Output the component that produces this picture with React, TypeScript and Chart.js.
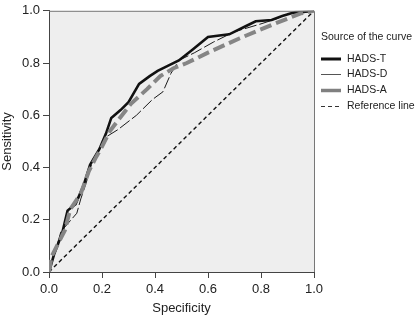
import React, { useEffect, useRef } from "react";
import { Chart, registerables } from "chart.js";

Chart.register(...registerables);

const seriesNames = ["HADS-T", "HADS-D", "HADS-A", "Reference line"];
const legendTitle = "Source of the curve";
const xAxisTitle = "Specificity";
const yAxisTitle = "Sensitivity";
const tickValues = [0, 0.2, 0.4, 0.6, 0.8, 1.0];

const hadsTX = [0, 0.02, 0.05, 0.07, 0.1, 0.13, 0.155, 0.19, 0.215, 0.235, 0.27, 0.3, 0.34, 0.38, 0.41, 0.45, 0.49, 0.54, 0.6, 0.68, 0.74, 0.78, 0.84, 0.88, 0.93, 1];
const hadsTY = [0, 0.07, 0.15, 0.235, 0.26, 0.33, 0.41, 0.47, 0.53, 0.59, 0.62, 0.65, 0.72, 0.75, 0.77, 0.79, 0.81, 0.85, 0.9, 0.91, 0.94, 0.96, 0.965, 0.98, 0.995, 1];

const hadsDX = [0, 0.03, 0.045, 0.105, 0.12, 0.14, 0.16, 0.19, 0.22, 0.26, 0.33, 0.39, 0.43, 0.46, 0.49, 0.55, 0.62, 0.7, 0.8, 0.86, 0.9, 0.95, 1];
const hadsDY = [0, 0.1, 0.155, 0.225, 0.28, 0.34, 0.41, 0.47, 0.52, 0.545, 0.6, 0.66, 0.69, 0.76, 0.81, 0.84, 0.88, 0.92, 0.95, 0.97, 0.99, 0.99, 1];

const hadsAX = [0, 0.01, 0.06, 0.08, 0.12, 0.15, 0.175, 0.2, 0.23, 0.26, 0.31, 0.37, 0.42, 0.47, 0.52, 0.6, 0.72, 0.85, 0.95, 1];
const hadsAY = [0, 0.06, 0.16, 0.24, 0.3, 0.385, 0.435, 0.48, 0.54, 0.58, 0.645, 0.7, 0.75, 0.78, 0.8, 0.84, 0.895, 0.95, 0.99, 1];

const refX = [0, 1];
const refY = [0, 1];

const FONT = "'Liberation Sans', Arial, Helvetica, sans-serif";
const TEXT = "#222222";
const AXIS = "#444444";

const toPoints = (xs: number[], ys: number[]) => xs.map((x, i) => ({ x, y: ys[i] }));

const backgroundPlugin = {
  id: "plotBackground",
  beforeDraw(chart: any) {
    const { ctx, chartArea: a } = chart;
    ctx.save();
    ctx.fillStyle = "#eeeeee";
    ctx.fillRect(a.left, a.top, a.right - a.left, a.bottom - a.top);
    ctx.restore();
  },
  afterDraw(chart: any) {
    const { ctx, chartArea: a } = chart;
    ctx.save();
    ctx.strokeStyle = "#777777";
    ctx.lineWidth = 1;
    ctx.beginPath();
    ctx.moveTo(a.left, a.top + 0.5);
    ctx.lineTo(a.right + 0.5, a.top + 0.5);
    ctx.lineTo(a.right + 0.5, a.bottom);
    ctx.stroke();
    ctx.restore();
  },
};

const legendPlugin = {
  id: "sideLegend",
  afterDraw(chart: any) {
    const { ctx } = chart;
    const x0 = 321;
    ctx.save();
    ctx.fillStyle = TEXT;
    ctx.textBaseline = "middle";
    ctx.textAlign = "left";
    ctx.font = `10.5px ${FONT}`;
    ctx.fillText(legendTitle, x0, 37.5);
    const rows = [59, 74.5, 90.5, 106.5];
    const widths = [3, 1, 3.5, 1.2];
    const colors = ["#111111", "#555555", "#808080", "#333333"];
    chart.data.datasets.forEach((ds: any, i: number) => {
      const y = rows[i];
      ctx.save();
      ctx.strokeStyle = colors[i];
      ctx.lineWidth = widths[i];
      ctx.setLineDash(i === 3 ? [4, 3] : []);
      ctx.beginPath();
      ctx.moveTo(x0, y);
      ctx.lineTo(x0 + 20, y);
      ctx.stroke();
      ctx.restore();
      ctx.fillStyle = TEXT;
      ctx.fillText(ds.label, x0 + 26, y);
    });
    ctx.restore();
  },
};

export default function App() {
  const ref = useRef<HTMLCanvasElement | null>(null);
  useEffect(() => {
    if (!ref.current) return;
    const chart = new Chart(ref.current, {
      type: "line",
      data: {
        datasets: [
          { label: seriesNames[0], data: toPoints(hadsTX, hadsTY), borderColor: "#111111", borderWidth: 2.6, pointRadius: 0, tension: 0, order: 1 },
          { label: seriesNames[1], data: toPoints(hadsDX, hadsDY), borderColor: "#1a1a1a", borderWidth: 1, borderDash: [12, 3], pointRadius: 0, tension: 0, order: 2 },
          { label: seriesNames[2], data: toPoints(hadsAX, hadsAY), borderColor: "#858585", borderWidth: 4, borderDash: [12, 5], pointRadius: 0, tension: 0, order: 0 },
          { label: seriesNames[3], data: toPoints(refX, refY), borderColor: "#111111", borderWidth: 1.4, borderDash: [4, 3], pointRadius: 0, tension: 0, order: 3 },
        ],
      },
      options: {
        responsive: false,
        animation: false,
        layout: { padding: { top: 7, right: 101, left: 0, bottom: 0 } },
        plugins: { legend: { display: false }, tooltip: { enabled: false } },
        scales: {
          x: {
            type: "linear",
            min: 0,
            max: 1,
            afterBuildTicks: (s: any) => { s.ticks = tickValues.map((v) => ({ value: v })); },
            afterFit: (s: any) => { s.height = 44; },
            ticks: { color: TEXT, font: { family: FONT, size: 13 }, padding: 4, maxRotation: 0, callback: (v: any) => Number(v).toFixed(1) },
            grid: { drawOnChartArea: false, drawTicks: true, tickLength: 6, color: AXIS },
            border: { display: true, color: AXIS, width: 1 },
            title: { display: true, text: xAxisTitle, color: TEXT, font: { family: FONT, size: 13 }, padding: { top: 0, bottom: 0 } },
          },
          y: {
            type: "linear",
            min: 0,
            max: 1,
            afterBuildTicks: (s: any) => { s.ticks = tickValues.map((v) => ({ value: v })); },
            afterFit: (s: any) => { s.width = 49; },
            ticks: { color: TEXT, font: { family: FONT, size: 13 }, padding: 3, callback: (v: any) => Number(v).toFixed(1) },
            grid: { drawOnChartArea: false, drawTicks: true, tickLength: 6, color: AXIS },
            border: { display: true, color: AXIS, width: 1 },
            title: { display: true, text: yAxisTitle, color: TEXT, font: { family: FONT, size: 13 }, padding: { top: 0, bottom: 0 } },
          },
        },
      },
      plugins: [backgroundPlugin, legendPlugin],
    } as any);
    return () => chart.destroy();
  }, []);
  return (
    <div style={{ position: "fixed", left: 0, top: 0, width: 415, height: 316, background: "#fff" }}>
      <canvas ref={ref} width={415} height={316} style={{ display: "block" }} />
    </div>
  );
}
